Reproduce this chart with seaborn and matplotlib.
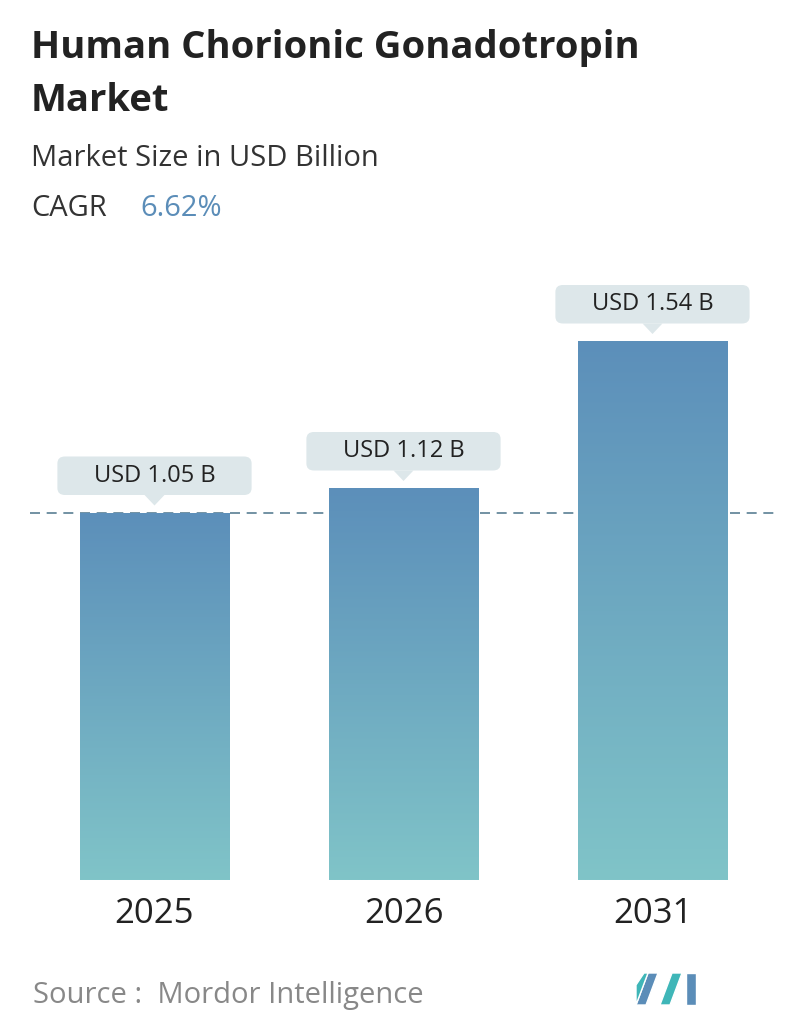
import matplotlib
matplotlib.use("Agg")
import matplotlib.pyplot as plt
import seaborn as sns
import numpy as np
from matplotlib.patches import FancyBboxPatch, Polygon
from matplotlib.colors import LinearSegmentedColormap

years = ["2025", "2026", "2031"]
values = [1.05, 1.12, 1.54]
labels = ["USD 1.05 B", "USD 1.12 B", "USD 1.54 B"]

sns.set_theme(style="white")
plt.rcParams['font.family'] = ['Open Sans', 'Noto Sans', 'DejaVu Sans']

W, H = 796, 1034
fig = plt.figure(figsize=(W/100, H/100), dpi=100)
ax = fig.add_axes([30/W, 1-880/H, 747/W, 620/H])
ymax = 620/350
sns.barplot(x=years, y=values, ax=ax, width=0.6, color="#6a9ec0", saturation=1)

grad = np.linspace(0, 1, 256).reshape(-1, 1)
cmap = LinearSegmentedColormap.from_list("g", ["#80c4c8", "#5c8fba"])
for p in ax.patches:
    x0 = p.get_x(); w = p.get_width(); h = p.get_height()
    im = ax.imshow(grad, extent=[x0, x0+w, 0, h], origin="lower", aspect="auto",
                   cmap=cmap, zorder=2)
    im.set_clip_path(p)
    p.set_facecolor("none"); p.set_edgecolor("none")
ax.set_xlim(-0.5, 2.5)
ax.set_ylim(0, ymax)

ax.axhline(values[0], color="#5a7f94", ls=(0, (6, 4)), lw=1.2, zorder=1)

for i, (v, t) in enumerate(zip(values, labels)):
    yl = v + 0.105
    bw, bh = 0.78, 0.11
    ax.add_patch(FancyBboxPatch((i - bw/2, yl - bh/2), bw, bh,
                 boxstyle="round,pad=0,rounding_size=0.03",
                 fc="#dde7ea", ec="none", zorder=3, mutation_aspect=1/1.5))
    ax.add_patch(Polygon([[i-0.04, yl-bh/2], [i+0.04, yl-bh/2], [i, yl-bh/2-0.03]],
                         fc="#dde7ea", ec="none", zorder=3))
    ax.text(i, yl, t, ha="center", va="center", fontsize=17, fontweight="medium",
            color="#222222", zorder=4)

sns.despine(ax=ax, left=True, bottom=True)
ax.set_yticks([])
ax.tick_params(axis="x", length=0, labelsize=25, colors="#222222", pad=12)
ax.set_xlabel(""); ax.set_ylabel("")

fig.text(31/W, 1-48/H, "Human Chorionic Gonadotropin", fontsize=27.5, fontweight="bold",
         color="#222222", va="center")
fig.text(31/W, 1-101/H, "Market", fontsize=27.5, fontweight="bold", color="#222222", va="center")
fig.text(31/W, 1-158/H, "Market Size in USD Billion", fontsize=21, color="#333333", va="center")
fig.text(31/W, 1-208/H, "CAGR", fontsize=21, color="#333333", va="center")
fig.text(140/W, 1-208/H, "6.62%", fontsize=21, color="#5b8db8", va="center")
fig.text(33/W, 1-996/H, "Source :  Mordor Intelligence", fontsize=21, color="#888888", va="center")

lax = fig.add_axes([636/W, 1-1005/H, 64/W, 32/H])
lax.set_xlim(0, 64); lax.set_ylim(0, 32); lax.axis("off")
lax.add_patch(Polygon([[0, 0], [10, 0], [22, 32], [12, 32]], fc="#5b8db8"))
lax.add_patch(Polygon([[0, 0], [0, 20], [8, 32], [12, 32]], fc="#3fb6b8"))
lax.add_patch(Polygon([[24, 0], [34, 0], [46, 32], [36, 32]], fc="#3fb6b8"))
lax.add_patch(Polygon([[50, 0], [60, 0], [60, 32], [50, 32]], fc="#5b8db8"))

fig.savefig("out.png", dpi=100)
